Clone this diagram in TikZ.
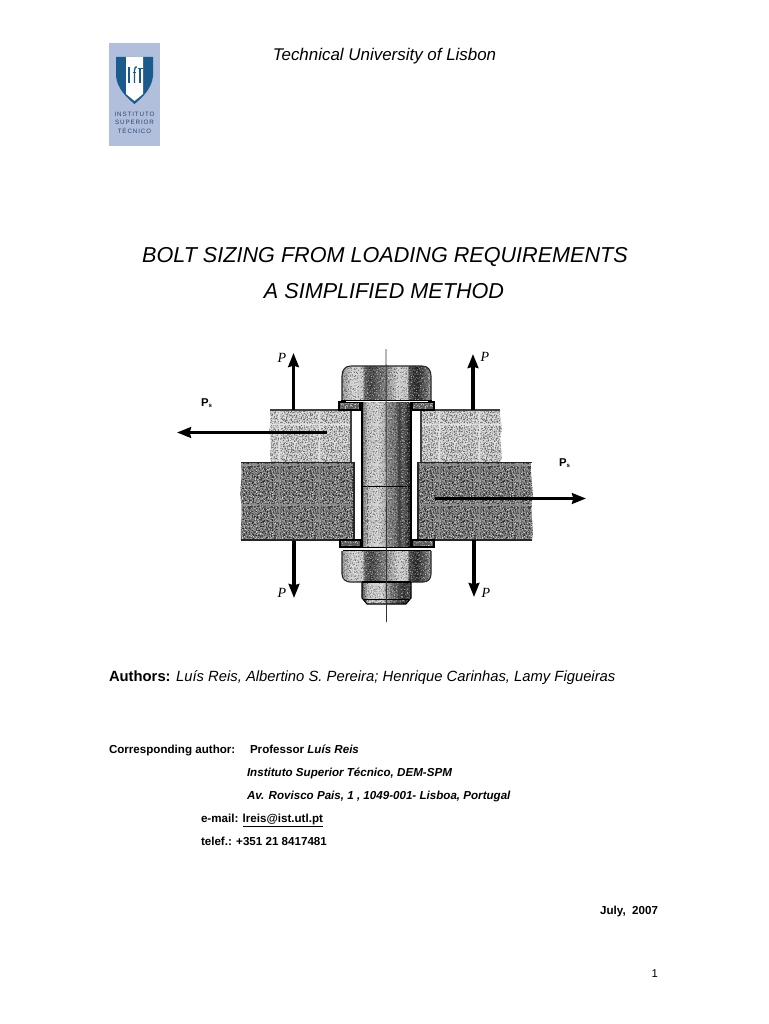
\documentclass[tikz,border=0pt]{standalone}
\usepackage{fontspec}
\setmainfont{Liberation Sans}
\newfontfamily\serfont{Liberation Serif}
\newfontfamily\logofont[LetterSpace=14]{Liberation Sans}
\usetikzlibrary{arrows.meta,calc,patterns}
\definecolor{logobg}{HTML}{B2BFDC}
\definecolor{logoblue}{HTML}{1A5A8C}
\definecolor{logotext}{HTML}{27466F}
\pgfmathsetseed{4242}
% jittered-grid stipple tile: name, dots per side, dot size
\newcommand{\mkstip}[3]{%
  \pgfdeclarepatternformonly{#1}{\pgfqpoint{0pt}{0pt}}{\pgfqpoint{30pt}{30pt}}{\pgfqpoint{30pt}{30pt}}{%
    \pgfmathsetmacro\stepv{29/#2}%
    \foreach \i in {1,...,#2}{%
      \foreach \j in {1,...,#2}{%
        \pgfmathsetmacro\xx{(\i-1+rnd)*\stepv}\pgfmathsetmacro\yy{(\j-1+rnd)*\stepv}%
        \pgfpathrectangle{\pgfpoint{\xx pt}{\yy pt}}{\pgfpoint{#3}{#3}}%
      }%
    }%
    \pgfusepath{fill}}}
\mkstip{stipA}{24}{0.65pt}
\mkstip{stipB}{20}{0.6pt}
\mkstip{stipC}{20}{0.6pt}
\mkstip{stipD}{26}{0.7pt}
\tikzset{
  txt/.style={inner sep=0pt,outer sep=0pt,anchor=base west,text=black},
  load/.style={line width=2.3pt,-{Stealth[length=10.5pt,width=8pt,inset=1pt]},black},
  plabel/.style={inner sep=0pt,font=\serfont\itshape\fontsize{10.5}{12}\selectfont},
  sslabel/.style={inner sep=0pt,font=\bfseries\fontsize{8.5}{10}\selectfont},
  logotxt/.style={inner sep=0pt,text=logotext,font=\logofont\fontsize{4.7}{5}\selectfont},
  small/.style={txt,font=\bfseries\fontsize{8.7}{10}\selectfont},
  grainW/.style={pattern=stipB,pattern color=white,fill opacity=0.55},
  grainK/.style={pattern=stipC,pattern color=black,fill opacity=0.5},
}
\pgfdeclarehorizontalshading{shankshade}{100bp}{
  color(0bp)=(black!60); color(25bp)=(black!60); color(30bp)=(black!25); color(40bp)=(black!15);
  color(48bp)=(black!28); color(52bp)=(black!50); color(58bp)=(black!55);
  color(63bp)=(black!75); color(67bp)=(black!62); color(71bp)=(black!82); color(75bp)=(black!90); color(100bp)=(black!90)}
\pgfdeclarehorizontalshading{flatA}{100bp}{
  color(0bp)=(black!40); color(25bp)=(black!40); color(31bp)=(black!15); color(36.5bp)=(black!22);
  color(37.5bp)=(black!62); color(41bp)=(black!75); color(50bp)=(black!45);
  color(56bp)=(black!18); color(61.5bp)=(black!22); color(62.5bp)=(black!70);
  color(67bp)=(black!85); color(73bp)=(black!55); color(75bp)=(black!30); color(100bp)=(black!30)}
\pgfdeclarehorizontalshading{endshade}{100bp}{
  color(0bp)=(black!65); color(25bp)=(black!65); color(31bp)=(black!22); color(45bp)=(black!15);
  color(55bp)=(black!55); color(67.5bp)=(black!80); color(75bp)=(black!70); color(100bp)=(black!70)}
\newcommand{\ULplate}{(270,410) .. controls (272,420) and (268,428) .. (270,436) .. controls (272,446) and (269,454) .. (271,462) -- (351,462) -- (351,410) -- cycle}
\newcommand{\URplate}{(421,410) -- (421,462) -- (501,462) .. controls (503,450) and (499,442) .. (501,434) .. controls (503,424) and (499,418) .. (500,410) -- cycle}
\newcommand{\LLplate}{(241,462) .. controls (243,478) and (239,490) .. (241,501) .. controls (243,514) and (240,526) .. (241,540) -- (354,540) -- (354,462) -- cycle}
\newcommand{\LRplate}{(418,462) -- (418,540) -- (532,540) .. controls (534,526) and (530,514) .. (532,501) .. controls (534,490) and (530,478) .. (531,462) -- cycle}
\newcommand{\hdpath}{(342,400) -- (342,376) .. controls (342,370) and (345,366) .. (351,366) -- (422,366) .. controls (428,366) and (431,370) .. (431,376) -- (431,400) -- cycle}
\newcommand{\ntpath}{(342,551) -- (342,574) .. controls (342,579) and (346,582) .. (350,582) -- (423,582) .. controls (428,582) and (431,579) .. (431,574) -- (431,551) -- cycle}
\newcommand{\tlpath}{(362,582) -- (362,598) -- (367,604) -- (406,604) -- (411,598) -- (411,582) -- cycle}
\begin{document}
\begin{tikzpicture}[x=0.75pt,y=-0.75pt]
\useasboundingbox (0,0) rectangle (768,1024);
\fill[white] (0,0) rectangle (768,1024);

% ---------- logo ----------
\fill[logobg] (109,43) rectangle (159.5,146);
\fill[logoblue] (116,57) -- (153,57) -- (153,76) .. controls (152,88) and (143,97) .. (134.5,104)
   .. controls (126,97) and (117,88) .. (116,76) -- cycle;
\fill[white] (126,57) -- (143,57) -- (143,94) -- (134.5,101) -- (126,94) -- cycle;
\draw[logoblue,line width=1pt] (129,67) -- (129,83);
\draw[logoblue,line width=1pt] (134.5,83) -- (134.5,70) .. controls (134.5,67) and (136,66.5) .. (137,67);
\draw[logoblue,line width=0.7pt] (132.5,72) -- (136,72);
\draw[logoblue,line width=1pt] (140,68) -- (140,83);
\draw[logoblue,line width=0.7pt] (137.5,68) -- (142.5,68);
\node[logotxt] (logoA) at (134.5,114.5) {INSTITUTO};
\node[logotxt] (logoB) at (134.5,122.5) {SUPERIOR};
\node[logotxt] (logoC) at (134.5,130.5) {T\'ECNICO};

% ---------- heading ----------
\node[inner sep=0pt,anchor=base,font=\itshape\fontsize{12.7}{15}\selectfont] (univ) at (384.5,61) {Technical University of Lisbon};
\node[inner sep=0pt,anchor=base,font=\itshape\fontsize{16.2}{19}\selectfont] (title1) at (385,262) {BOLT SIZING FROM LOADING REQUIREMENTS};
\node[inner sep=0pt,anchor=base,font=\itshape\fontsize{16.2}{19}\selectfont] (title2) at (384,298) {A SIMPLIFIED METHOD};

% ---------- upper plates ----------
\fill[black!12] \ULplate;
\fill[black!12] \URplate;
\path[pattern=stipA,pattern color=black!60] \ULplate;
\path[pattern=stipA,pattern color=black!60] \URplate;
\draw[black!75,line width=0.8pt] (270,410) -- (351,410) -- (351,462);
\draw[black!75,line width=0.8pt] (500,410) -- (421,410) -- (421,462);

% ---------- lower plates ----------
\fill[black!45] \LLplate;
\fill[black!45] \LRplate;
\path[pattern=stipD,pattern color=black!85] \LLplate;
\path[pattern=stipD,pattern color=black!85] \LRplate;
\path[pattern=stipB,pattern color=black!18] \LLplate;
\path[pattern=stipB,pattern color=black!18] \LRplate;
\draw[black!85,line width=0.8pt] (241,462.5) -- (354,462.5) -- (354,540) -- (241,540);
\draw[black!85,line width=0.8pt] (532,462.5) -- (418,462.5) -- (418,540) -- (532,540);

% ---------- washers ----------
\foreach \xa/\xb/\ya/\yb in {339/360/402/410,412/434/402/410,340/361/540/547,412/434/540/547}{
  \fill[black!65] (\xa,\ya) rectangle (\xb,\yb);
  \path[pattern=stipB,pattern color=black!20] (\xa,\ya) rectangle (\xb,\yb);
  \draw[black,line width=0.8pt] (\xa,\ya) rectangle (\xb,\yb);
}

% ---------- bolt shank ----------
\fill[shading=shankshade] (362,402) rectangle (411,547);
\path[grainW] (362,402) rectangle (411,547);
\path[grainK] (362,402) rectangle (411,547);
\draw[black,line width=0.8pt] (362,402) -- (362,547) (411,402) -- (411,547);
\draw[black,line width=0.7pt] (362,486) -- (411,486);
\draw[black!60,line width=0.4pt,dash pattern=on 3pt off 2pt] (367,486) -- (367,547) (407,486) -- (407,547);

% ---------- head ----------
\path[shading=flatA] \hdpath;
\path[grainW] \hdpath;
\path[grainK] \hdpath;
\draw[black!85,line width=0.8pt] (342,400) -- (342,376) .. controls (342,370) and (345,366) .. (351,366) -- (422,366) .. controls (428,366) and (431,370) .. (431,376) -- (431,400);
\fill[black] (341,399.5) rectangle (432,402);
\fill[white] (346,400.5) rectangle (428,401.6);

% ---------- nut ----------
\fill[white] (344,547) rectangle (430,550);
\draw[black,line width=0.8pt] (344,547.5) -- (430,547.5) (343,550.5) -- (431,550.5);
\path[shading=flatA] \ntpath;
\path[grainW] \ntpath;
\path[grainK] \ntpath;
\draw[black!85,line width=0.8pt] (342,551) -- (342,574) .. controls (342,579) and (346,582) .. (350,582) -- (423,582) .. controls (428,582) and (431,579) .. (431,574) -- (431,551);

% ---------- bolt end ----------
\path[shading=endshade] \tlpath;
\path[grainW] \tlpath;
\path[grainK] \tlpath;
\draw[black,line width=1.8pt] (362,582) -- (411,582);
\draw[black,line width=0.8pt] (362,582) -- (362,598) -- (367,604) -- (406,604) -- (411,598) -- (411,582);
\draw[black,line width=0.5pt] (364,599) -- (409,599);

% ---------- centre line ----------
\coordinate (axisT) at (386,349);
\coordinate (axisB) at (386.5,622);
\draw[black!80,line width=0.7pt] (axisT) -- (axisB);

% ---------- load arrows ----------
\coordinate (pTLa) at (293.5,410); \coordinate (pTLb) at (293.5,353);
\coordinate (pTRa) at (473,410);   \coordinate (pTRb) at (473,354);
\coordinate (pBLa) at (294,541);   \coordinate (pBLb) at (294,598);
\coordinate (pBRa) at (474,540);   \coordinate (pBRb) at (474,597);
\coordinate (sLa) at (327,432.5);  \coordinate (sLb) at (177,432.5);
\coordinate (sRa) at (435,498.5);  \coordinate (sRb) at (586,498.5);
\draw[load] (pTLa) -- (pTLb);
\draw[load] (pTRa) -- (pTRb);
\draw[load] (pBLa) -- (pBLb);
\draw[load] (pBRa) -- (pBRb);
\draw[load] (sLa) -- (sLb);
\draw[load] (sRa) -- (sRb);
\node[plabel] (lblTL) at (282,358) {P};
\node[plabel] (lblTR) at (485,357) {P};
\node[plabel] (lblBL) at (282,593) {P};
\node[plabel] (lblBR) at (486,593) {P};
\node[sslabel] (lblSL) at (206.5,403) {P\raisebox{-0.5pt}{\fontsize{4.5}{5}\selectfont s}};
\node[sslabel] (lblSR) at (564.5,463) {P\raisebox{-0.5pt}{\fontsize{4.5}{5}\selectfont s}};

% ---------- authors ----------
\node[txt,font=\fontsize{11.1}{14}\selectfont] (authors) at (109,681) {\textbf{Authors:} \textit{Lu\'is Reis, Albertino S. Pereira; Henrique Carinhas, Lamy Figueiras}};
\node[small] (corr) at (109,753) {Corresponding author:};
\node[small] (prof) at (250,753) {Professor \textit{Lu\'is Reis}};
\node[small] (inst) at (247,776) {\textit{Instituto Superior T\'ecnico, DEM-SPM}};
\node[small] (addr) at (247,799) {\textit{Av. Rovisco Pais, 1 , 1049-001- Lisboa, Portugal}};
\node[small] (mail) at (201,822) {e-mail: \underline{lreis@ist.utl.pt}};
\node[small] (tel) at (201,845) {telef.: +351 21 8417481};
\node[small,anchor=base east] (date) at (658,914) {July,\ \ 2007};
\node[txt,anchor=base east,font=\fontsize{8.5}{10}\selectfont] (page) at (658,977) {1};
\end{tikzpicture}
\end{document}
